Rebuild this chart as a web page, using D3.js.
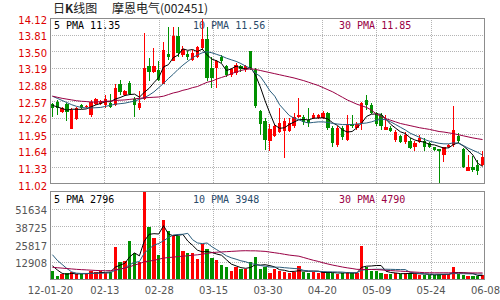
<!DOCTYPE html>
<html><head><meta charset="utf-8">
<script src="https://cdn.jsdelivr.net/npm/d3@7"></script>
<style>
html,body{margin:0;padding:0;background:#fff;}
svg{display:block;}
</style></head>
<body><svg id="c" width="500" height="300"></svg>
<script>
// ---------- data ----------
const openP = [
12.51,12.55,12.37,12.51,12.05,12.24,12.49,12.45,12.30,12.51,
12.51,12.49,12.53,12.49,12.89,12.68,12.90,12.60,12.43,12.60,
13.23,13.12,13.14,12.89,13.44,13.32,13.78,13.42,13.44,13.34,
13.39,13.56,13.72,13.19,13.19,13.39,13.22,13.05,13.09,13.22,
13.14,13.50,13.155,12.38,12.19,11.82,11.91,12.00,12.005,12.005,
12.10,12.265,12.265,12.21,12.25,12.25,12.25,12.345,12.07,11.75,
12.065,11.85,12.14,12.07,12.16,12.58,12.49,12.345,12.315,12.035,
12.07,11.85,11.91,11.80,11.83,11.705,11.80,11.83,11.785,11.705,
11.68,11.57,11.72,11.755,11.91,11.68,11.27,11.33,11.38,11.38];
const highP = [
12.53,12.58,12.45,12.53,12.43,12.45,12.51,12.50,12.58,12.63,
12.58,12.68,12.70,12.88,12.97,12.78,12.94,12.64,12.75,13.84,
13.37,13.56,13.32,13.68,13.96,13.95,13.95,13.59,13.50,13.53,
13.60,14.12,13.96,13.40,13.34,13.42,13.25,13.19,13.28,13.25,
13.25,13.51,13.19,12.41,12.25,12.14,12.14,12.44,12.25,12.25,
12.34,12.63,12.315,12.43,12.35,12.32,12.39,12.36,12.10,12.10,
12.10,12.315,12.315,12.18,12.56,12.69,12.53,12.36,12.35,12.30,
12.10,12.035,11.94,12.00,11.88,11.82,11.94,11.87,11.80,11.72,
11.68,11.72,11.77,12.47,11.97,11.69,11.57,11.54,11.46,11.63];
const lowP = [
12.27,12.30,12.35,12.19,12.05,12.22,12.42,12.43,12.27,12.49,
12.49,12.44,12.43,12.47,12.69,12.66,12.68,12.27,12.41,12.58,
12.94,13.09,12.94,12.88,13.34,13.31,13.40,13.40,13.34,13.32,
13.37,13.53,12.94,12.81,12.81,13.28,13.01,13.01,13.06,13.12,
13.12,13.155,12.44,11.94,11.66,11.64,11.89,11.97,11.51,11.99,
12.07,12.25,12.13,12.09,12.24,12.23,12.24,12.035,11.705,11.72,
11.85,11.83,12.07,12.035,12.035,12.41,12.32,12.10,12.03,12.02,
11.99,11.80,11.79,11.77,11.68,11.63,11.79,11.63,11.70,11.63,
11.02,11.43,11.70,11.72,11.79,11.31,11.26,11.24,11.195,11.35];
const closeP = [
12.43,12.44,12.43,12.37,12.41,12.43,12.43,12.47,12.56,12.60,
12.56,12.61,12.45,12.81,12.74,12.75,12.70,12.49,12.53,13.19,
13.12,13.23,12.97,13.53,13.39,13.78,13.47,13.55,13.39,13.47,
13.57,13.72,13.00,13.00,13.31,13.32,13.06,13.16,13.25,13.16,
13.22,13.19,12.47,12.14,11.85,12.05,12.10,12.16,12.19,12.16,
12.28,12.315,12.18,12.15,12.315,12.30,12.34,12.065,11.79,12.07,
11.89,12.14,12.11,12.14,12.53,12.49,12.345,12.14,12.10,12.08,
12.005,11.99,11.80,11.94,11.69,11.785,11.87,11.72,11.72,11.66,
11.63,11.72,11.75,12.035,11.82,11.33,11.33,11.29,11.27,11.52];
const ma5 = [
12.49,12.46,12.43,12.40,12.416,12.416,12.414,12.422,12.46,12.498,
12.524,12.56,12.556,12.606,12.634,12.672,12.69,12.698,12.642,12.732,
12.806,12.912,13.008,13.208,13.248,13.38,13.428,13.544,13.516,13.532,
13.49,13.54,13.43,13.352,13.32,13.27,13.138,13.17,13.22,13.19,
13.17,13.196,13.058,12.836,12.574,12.34,12.122,12.06,12.07,12.132,
12.178,12.221,12.225,12.217,12.248,12.252,12.257,12.234,12.162,12.113,
12.031,11.991,12.00,12.07,12.162,12.282,12.323,12.329,12.321,12.231,
12.134,12.063,11.995,11.963,11.885,11.841,11.817,11.801,11.757,11.751,
11.72,11.69,11.696,11.759,11.791,11.731,11.653,11.561,11.408,11.348];
const ma10 = [
12.66,12.62,12.58,12.54,12.50,12.47,12.45,12.44,12.44,12.445,
12.45,12.47,12.49,12.51,12.52,12.53,12.55,12.57,12.60,12.63,
12.68,12.74,12.82,12.90,12.99,13.07,13.16,13.24,13.31,13.38,
13.43,13.47,13.49,13.47,13.44,13.41,13.37,13.34,13.31,13.27,
13.22,13.18,13.09,13.03,12.90,12.76,12.66,12.50,12.40,12.30,
12.25,12.22,12.18,12.16,12.17,12.18,12.18,12.17,12.15,12.14,
12.13,12.13,12.13,12.14,12.15,12.16,12.18,12.21,12.23,12.22,
12.18,12.13,12.08,12.03,11.97,11.93,11.89,11.85,11.82,11.80,
11.78,11.77,11.77,11.79,11.78,11.74,11.69,11.65,11.61,11.56];
const ma30 = [
12.66,12.64,12.62,12.605,12.59,12.575,12.565,12.56,12.55,12.55,
12.56,12.565,12.57,12.58,12.585,12.59,12.60,12.61,12.62,12.63,
12.635,12.64,12.645,12.66,12.69,12.72,12.74,12.77,12.79,12.82,
12.84,12.88,12.92,12.94,12.98,13.01,13.04,13.08,13.11,13.14,
13.16,13.17,13.16,13.14,13.12,13.10,13.08,13.06,13.04,13.02,
13.00,12.975,12.95,12.92,12.89,12.86,12.82,12.78,12.74,12.69,
12.64,12.59,12.55,12.51,12.48,12.45,12.40,12.33,12.28,12.24,
12.21,12.18,12.15,12.13,12.11,12.09,12.07,12.055,12.04,12.02,
12.00,11.99,11.975,11.96,11.94,11.92,11.90,11.88,11.865,11.85];
const volume = [
6200,2800,3800,4500,5200,3800,3800,3800,6200,5200,
6200,4500,5200,23700,12500,13500,28100,19100,13000,66000,
38500,30500,17900,43400,35400,32500,32000,20800,19600,19600,
15000,25700,22300,15900,14000,10600,9300,6400,9300,7700,
8000,12500,16600,7600,9300,4700,7600,6400,5700,4700,
5200,10000,5200,4700,5700,4700,5200,5200,4700,4000,
4700,5700,4700,4700,24700,8800,6400,6400,4700,4000,
4000,4700,4000,4700,4700,4000,3300,3300,3300,3300,
4200,4300,3800,9300,3900,3400,2600,2600,2300,3080];
const vma5 = [
10000,7000,4500,3800,4500,4020,4220,4220,4560,4560,
5040,5180,5460,8960,10420,11880,16600,19380,17240,27940,
32940,33420,33180,39260,33140,31940,32240,32820,28060,24900,
21400,20140,20440,19700,18580,17700,14420,11240,9920,8660,
8140,8780,10820,10480,10800,10140,9160,7120,6740,5820,
5920,6400,6160,5960,6160,6060,5100,5100,5100,4760,
4760,4860,4760,4760,8900,9720,9860,10200,10200,6060,
5100,4760,4280,4280,4420,4420,4140,4000,3720,3440,
3480,3680,3780,4980,5100,4940,4600,4360,2960,2796];
const vma10 = [
18100,14000,11000,8000,5500,4600,4400,4400,4450,4530,
4530,4700,4840,6760,7490,8460,10890,12420,13100,19180,
22410,25010,26280,28250,30540,32440,32830,33000,33660,29020,
26670,26190,26630,23880,21740,19550,17280,15840,14810,13620,
12920,11600,11030,10200,9730,9140,8970,8970,8610,8310,
8030,7780,6640,6350,5990,5990,5750,5630,5530,5460,
5410,4980,4930,4930,6830,7240,7360,7480,7480,7480,
7410,7310,7240,7240,5240,4760,4450,4140,4000,3930,
3950,3910,3890,4350,4270,4210,4140,4070,3970,3948];
const vma30 = [
8900,8600,8300,8000,7700,7400,7200,7000,6800,6600,
6500,6400,6500,7000,7700,8300,9300,10600,11500,13000,
13400,14000,14800,15600,16000,16300,16700,17000,17300,17700,
18000,18500,19000,19600,19900,20100,20300,20500,20700,20900,
21000,20900,20900,20700,20500,20000,19500,19000,18400,17800,
17400,17000,16000,15000,14000,13200,12200,11300,10500,9800,
9100,8500,8000,7400,7400,7300,7300,7200,7000,6700,
6500,6300,6100,5900,5600,5400,5200,5000,4950,4900,
4900,4900,4900,4900,4850,4850,4800,4800,4790,4790];

const priceTicks = [14.12,13.81,13.50,13.19,12.88,12.57,12.26,11.95,11.64,11.33,11.02];
const volTicks = [0,12908,25817,38725,51634,64542];
const volTickLabels = [12908,25817,38725,51634];
const dateLabels = ['12-01-20','02-13','02-28','03-15','03-30','04-20','05-09','05-24','06-08'];
const legendNames = ['5 PMA','10 PMA','30 PMA'];
const priceLegendVals = ['11.35','11.56','11.85'];
const volLegendVals = ['2796','3948','4790'];
const titleParts = ['日', 'K', '线图'];
const titleRight = '摩恩电气(002451)';

// ---------- layout ----------
const L = 50, R = 485, PT = 18, PB = 184, VT = 191, VB = 279.5;
const UP = '#ff0000', DOWN = '#009000';
const lineColors = ['#000000', '#2a5d7c', '#990044'];
const legendColors = ['#000000', '#2a4a6a', '#990044'];
const gridColor = '#b4b4b4', frameColor = '#8c8c8c';

const svg = d3.select('#c');
const N = closeP.length;
const idx = d3.range(N);

const x = d3.scaleBand().domain(idx).range([L, R]).paddingInner(0.3).paddingOuter(0.15);
const xc = i => x(i) + x.bandwidth() / 2;
const xd = d3.scalePoint().domain(dateLabels).range([L, R]);
const y = d3.scaleLinear().domain([priceTicks[priceTicks.length - 1], priceTicks[0]]).range([PB, PT]);
const yv = d3.scaleLinear().domain([volTicks[0], volTicks[volTicks.length - 1]]).range([VB, VT]);

const defs = svg.append('defs');
defs.append('clipPath').attr('id', 'clipP').append('rect').attr('x', L).attr('y', PT).attr('width', R - L).attr('height', PB - PT);
defs.append('clipPath').attr('id', 'clipV').append('rect').attr('x', L).attr('y', VT).attr('width', R - L).attr('height', VB - VT);

// grids
const grid = svg.append('g').attr('stroke', gridColor).attr('stroke-dasharray', '1,1').attr('shape-rendering', 'crispEdges');
priceTicks.slice(1, -1).forEach(t => {
  grid.append('line').attr('x1', L).attr('x2', R).attr('y1', Math.round(y(t)) + 0.5).attr('y2', Math.round(y(t)) + 0.5);
});
volTickLabels.forEach(t => {
  grid.append('line').attr('x1', L).attr('x2', R).attr('y1', Math.round(yv(t)) + 0.5).attr('y2', Math.round(yv(t)) + 0.5);
});
dateLabels.slice(1, -1).forEach(d => {
  const gx = Math.round(xd(d)) + 0.5;
  grid.append('line').attr('x1', gx).attr('x2', gx).attr('y1', PT).attr('y2', PB);
  grid.append('line').attr('x1', gx).attr('x2', gx).attr('y1', VT).attr('y2', VB);
});

// title
const tl = svg.append('text').attr('x', 53).attr('y', 13).attr('font-family', '"Noto Sans CJK SC", sans-serif')
  .attr('font-size', 12).attr('fill', '#222');
titleParts.forEach((p, k) => tl.append('tspan').attr('font-weight', k === 1 ? 'bold' : 'normal').text(p));
svg.append('text').attr('x', 112).attr('y', 13).attr('font-family', '"Noto Sans CJK SC", sans-serif')
  .attr('font-size', 12).attr('fill', '#222').text(titleRight);

// legends
const legX = [54, 193, 339];
legendNames.forEach((n, k) => {
  svg.append('text').attr('x', legX[k]).attr('y', 28.5).attr('font-family', '"DejaVu Sans Mono", monospace')
    .attr('font-size', 10).attr('fill', legendColors[k]).text(n + ' ' + priceLegendVals[k]);
  svg.append('text').attr('x', legX[k]).attr('y', 202.5).attr('font-family', '"DejaVu Sans Mono", monospace')
    .attr('font-size', 10).attr('fill', legendColors[k]).text(n + ' ' + volLegendVals[k]);
});

// candles
const cg = svg.append('g').attr('clip-path', 'url(#clipP)').attr('shape-rendering', 'crispEdges');
idx.forEach(i => {
  const up = closeP[i] >= openP[i];
  const col = up ? UP : DOWN;
  const cx = Math.floor(xc(i)) + 0.5;
  cg.append('line').attr('x1', cx).attr('x2', cx).attr('y1', y(highP[i])).attr('y2', y(lowP[i])).attr('stroke', col);
  const top = y(Math.max(openP[i], closeP[i])), bot = y(Math.min(openP[i], closeP[i]));
  cg.append('rect').attr('x', x(i)).attr('width', x.bandwidth()).attr('y', top).attr('height', Math.max(1, bot - top)).attr('fill', col);
});

// price MA lines
const pl = d3.line().x((d, i) => xc(i)).y(d => y(d));
const mg = svg.append('g').attr('clip-path', 'url(#clipP)');
[ma5, ma10, ma30].forEach((s, k) => {
  mg.append('path').attr('d', pl(s)).attr('fill', 'none').attr('stroke', lineColors[k]).attr('stroke-width', 1);
});

// volume bars
const vg = svg.append('g').attr('clip-path', 'url(#clipV)').attr('shape-rendering', 'crispEdges');
idx.forEach(i => {
  const col = closeP[i] >= openP[i] ? UP : DOWN;
  vg.append('rect').attr('x', x(i)).attr('width', x.bandwidth()).attr('y', yv(volume[i])).attr('height', VB - yv(volume[i])).attr('fill', col);
});
const vl = d3.line().x((d, i) => xc(i)).y(d => yv(d));
const vmg = svg.append('g').attr('clip-path', 'url(#clipV)');
[vma5, vma10, vma30].forEach((s, k) => {
  vmg.append('path').attr('d', vl(s)).attr('fill', 'none').attr('stroke', lineColors[k]).attr('stroke-width', 1);
});

// frames
svg.append('rect').attr('x', L + 0.5).attr('y', PT + 0.5).attr('width', R - L - 1).attr('height', PB - PT - 1)
  .attr('fill', 'none').attr('stroke', frameColor).attr('shape-rendering', 'crispEdges');
svg.append('rect').attr('x', L + 0.5).attr('y', VT + 0.5).attr('width', R - L - 1).attr('height', VB - VT - 1)
  .attr('fill', 'none').attr('stroke', frameColor).attr('shape-rendering', 'crispEdges');

// axes
const axP = svg.append('g').attr('transform', `translate(${L},0)`)
  .call(d3.axisLeft(y).tickValues(priceTicks).tickSize(0).tickPadding(3).tickFormat(d3.format('.2f')));
axP.select('.domain').remove();
axP.selectAll('text').attr('fill', '#dd0000').attr('font-family', '"DejaVu Sans", sans-serif').attr('font-size', 10).attr('dy', '0.5em');

const axV = svg.append('g').attr('transform', `translate(${L},0)`)
  .call(d3.axisLeft(yv).tickValues(volTickLabels).tickSize(0).tickPadding(3).tickFormat(d3.format('d')));
axV.select('.domain').remove();
axV.selectAll('text').attr('fill', '#555').attr('font-family', '"DejaVu Sans", sans-serif').attr('font-size', 10).attr('dy', '0.5em');

const axX = svg.append('g').attr('transform', `translate(0,${VB})`)
  .call(d3.axisBottom(xd).tickSize(0).tickPadding(7));
axX.select('.domain').remove();
axX.selectAll('text').attr('fill', '#555').attr('font-family', '"DejaVu Sans", sans-serif').attr('font-size', 10);
</script>
</body></html>
